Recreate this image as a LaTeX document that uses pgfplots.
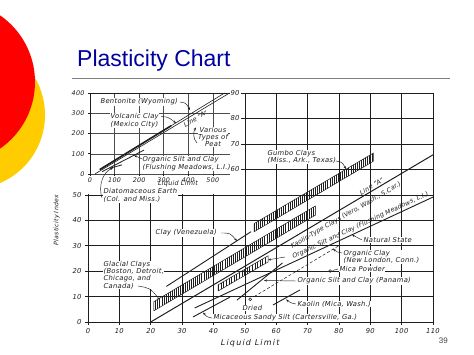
\documentclass[border=0pt]{standalone}
\usepackage{fontspec}
\setmainfont{DejaVu Sans}
\newfontfamily\arialfont{Liberation Sans}
\usepackage{pgfplots}
\pgfplotsset{compat=1.18}
\usetikzlibrary{patterns.meta,arrows.meta}

\definecolor{titleblue}{RGB}{0,0,160}
\definecolor{slidered}{RGB}{255,0,0}
\definecolor{slideyellow}{RGB}{255,204,0}
\definecolor{ink}{RGB}{30,30,30}

\newcommand{\lab}{\fontsize{6.8}{7.3}\selectfont\itshape\addfontfeatures{LetterSpace=4}}
\newcommand{\labs}{\fontsize{6.4}{7}\selectfont\itshape\addfontfeatures{LetterSpace=4}}
\newcommand{\labr}{\fontsize{6.3}{7}\selectfont\itshape\addfontfeatures{LetterSpace=2}}

\begin{document}
\begin{tikzpicture}[x=1pt,y=1pt]
\path[use as bounding box] (0,0) rectangle (474,355);
\begin{scope}
\clip (0,0) rectangle (474,355);
\fill[slideyellow] (-29,240) circle (74);
\fill[slidered] (-46,273) circle (81);
\end{scope}
\node[anchor=base west, inner sep=0, text=titleblue, font=\arialfont\fontsize{23}{26}\selectfont] at (77,288) {Plasticity Chart};
\draw[gray, line width=1pt] (72,276) -- (450,276);
\node[anchor=base east, inner sep=0, font=\arialfont\fontsize{8}{9}\selectfont, text=black!75] at (448,11) {39};

% ---------------- main chart ----------------
\begin{axis}[
  at={(88pt,33pt)}, anchor=south west, scale only axis,
  width=345pt, height=229pt,
  xmin=0, xmax=110, ymin=0, ymax=90,
  xtick={0,10,...,110}, ytick={0,10,...,50},
  extra y ticks={60,70,80,90}, extra y tick labels={},
  extra y tick style={grid=major, tick style={draw=none}},
  grid=major, grid style={ink, line width=0.5pt},
  axis line style={draw=none},
  tick align=outside, major tick length=3pt,
  tick style={ink, line width=0.5pt},
  xtick pos=bottom, ytick pos=left,
  ticklabel style={font=\lab, text=ink},
  /pgf/number format/assume math mode=true,
  xlabel={Liquid Limit}, ylabel={Plasticity Index},
  xlabel style={font=\fontsize{8}{9}\selectfont\itshape\addfontfeatures{LetterSpace=15}, text=ink, at={(ticklabel cs:0.47)}, yshift=1pt},
  ylabel style={font=\fontsize{6.2}{7}\selectfont\itshape\addfontfeatures{LetterSpace=4}, text=ink, at={(ticklabel cs:0.445)}},
  clip=false,
]
\fill[white] (axis cs:-0.4,50.35) rectangle (axis cs:49.8,91);
\draw[ink, line width=0.6pt] (axis cs:0,50.35) -- (axis cs:0,0) -- (axis cs:110,0) -- (axis cs:110,90) -- (axis cs:50,90);
\pgfplotsinvokeforeach{60,70,80,90}{
  \node[anchor=east, font=\lab, text=ink, inner sep=1pt] at (axis cs:48.7,#1) {#1};
  \draw[ink, line width=0.5pt] (axis cs:48.9,#1) -- (axis cs:50,#1);
}
% Line A
\addplot[ink, line width=1pt] coordinates {(20,0) (110,65.7)};
% Clay (Venezuela)
\addplot[ink, line width=0.9pt] coordinates {(25,14) (52,35.5)};
% Glacial clays band
\addplot[ink, line width=0.5pt, pattern color=ink, pattern={Lines[angle=90,distance=2.1pt,line width=0.32pt]}] coordinates {(21,4.4) (72.5,42.0) (72.5,45.6) (21,8.0)} -- cycle;
% Gumbo clays band
\addplot[ink, line width=0.5pt, pattern color=ink, pattern={Lines[angle=90,distance=2.1pt,line width=0.32pt]}] coordinates {(53,35.5) (91,63.2) (91,66.4) (53,38.7)} -- cycle;
% Kaolin-type clays band
\addplot[ink, line width=0.5pt, pattern color=ink, pattern={Lines[angle=90,distance=2.6pt,line width=0.32pt]}] coordinates {(41.5,12.2) (57.4,23.6) (57.4,26.0) (41.5,14.6)} -- cycle;
% Organic silt and clay (Flushing Meadows)
\addplot[ink, line width=0.9pt] coordinates {(34,5.5) (110,49.1)};
% Organic silt and clay (Panama)
\addplot[ink, line width=0.9pt] coordinates {(47.5,8.6) (62,23.2)};
% Organic clay (New London) dashed
\addplot[ink, line width=0.5pt, dash pattern=on 3pt off 2pt] coordinates {(53,10) (80,30)};
% Kaolin (Mica, Wash.)
\addplot[ink, line width=0.9pt] coordinates {(59,6.7) (67.6,12.6)};
% Micaceous sandy silt
\addplot[ink, line width=0.9pt] coordinates {(33.5,2) (45.3,9.8)};
% Mica powder and dried points
\addplot[ink, only marks, mark=o, mark size=1.4pt, mark options={line width=0.5pt}] coordinates {(77.2,20) (51.7,8.9)};
\end{axis}

% ---------------- inset chart ----------------
\begin{axis}[
  at={(90pt,181pt)}, anchor=south west, scale only axis,
  width=140pt, height=81pt,
  xmin=0, xmax=570, ymin=0, ymax=400,
  xtick={0,100,...,500}, ytick={0,100,...,400},
  grid=major, grid style={ink!80, line width=0.4pt},
  axis background/.style={fill=white},
  axis line style={draw=none},
  tick align=outside, major tick length=2pt,
  tick style={ink, line width=0.5pt},
  xtick pos=bottom, ytick pos=left,
  ticklabel style={font=\labs, text=ink},
  xticklabel style={yshift=1.5pt},
  /pgf/number format/assume math mode=true,
]
\draw[ink, line width=0.6pt] (rel axis cs:1,1) -- (rel axis cs:0,1) -- (rel axis cs:0,0) -- (rel axis cs:1,0);
\addplot[ink, line width=0.6pt] coordinates {(20,0) (568,400)};
\addplot[ink, line width=0.6pt] coordinates {(40,22) (548,400)};
\addplot[ink, line width=1.6pt] coordinates {(40,22) (330,238)};
\addplot[ink, line width=0.8pt] coordinates {(50,12) (220,118)};
\addplot[ink, line width=0.8pt] coordinates {(80,28) (130,45)};
\end{axis}

% ---------------- annotations (pixel-like coordinates, y down) ----------------
\begin{scope}[shift={(0,355)}, yscale=-1,
  lbl/.style={font=\lab, text=ink, inner sep=0.4pt, fill=white, align=left},
  arr/.style={ink, line width=0.45pt, -{Stealth[length=3pt,width=2.2pt]}}]
% inset
\node[lbl, anchor=west] at (100,102) {Bentonite (Wyoming)};
\draw[arr] (180,102) .. controls (186,103) .. (190,110);
\node[lbl, anchor=west] at (110,120.5) {Volcanic Clay\\(Mexico City)};
\draw[arr] (161,116.5) .. controls (168,117) .. (176,123);
\node[font=\labs, text=ink, rotate=31, anchor=north, inner sep=0.3pt] at (194,116.5) {Line ``A''};
\node[lbl, align=center] at (213,137) {Various\\Types of\\Peat};
\draw[arr] (197,143) .. controls (193,139) and (193,132) .. (196,127.5);
\node[lbl, anchor=west] at (142,163.5) {Organic Silt and Clay\\(Flushing Meadows, L.I.)};
\draw[arr] (142,159) .. controls (138,157) .. (134,155.5);
\node[lbl, anchor=west] at (103,195.5) {Diatomaceous Earth\\(Col. and Miss.)};
\draw[arr] (102,198) .. controls (98,186) and (103,172) .. (113,168);
\node[font=\labs, text=ink, inner sep=0.3pt] at (178,184) {Liquid Limit};
% main
\node[lbl, anchor=west] at (267,157) {Gumbo Clays\\(Miss., Ark., Texas)};
\draw[arr] (336,161) .. controls (342,162) .. (346,169);
\node[lbl, anchor=west] at (155,233) {Clay (Venezuela)};
\draw[arr] (221,233) .. controls (230,233) .. (237,241);
\node[lbl, anchor=west] at (103,275) {Glacial Clays\\(Boston, Detroit,\\Chicago, and\\Canada)};
\draw[arr] (138,286) .. controls (150,288) .. (160,300);
\node[font=\labr, text=ink, rotate=30, inner sep=0.3pt] at (346,215.5) {Kaolin-Type Clays (Vero, Wash., S.Car.)};
\draw[arr] (285,257) .. controls (277,258) .. (268,260);
\node[font=\labr, text=ink, rotate=25, anchor=south, inner sep=0.3pt] at (362,228.6) {Organic Silt and Clay (Flushing Meadows, L.I.)};
\node[font=\labs, text=ink, rotate=30.6, anchor=south, inner sep=0.5pt] at (373,189) {Line ``A''};
\node[lbl, anchor=west] at (363,240) {Natural State};
\draw[arr] (362,240) .. controls (357,238) .. (352,234.5);
\node[lbl, anchor=west] at (343,257) {Organic Clay\\(New London, Conn.)};
\draw[arr] (342,253) .. controls (337,252) .. (333,249);
\node[lbl, anchor=west] at (339,269) {Mica Powder};
\draw[ink, line width=0.45pt] (332.5,270.5) -- (338,269);
\node[lbl, anchor=west] at (297,281) {Organic Silt and Clay (Panama)};
\draw[arr] (296,281) -- (264,280.5);
\node[lbl, anchor=west] at (297,304) {Kaolin (Mica, Wash.)};
\draw[arr] (296,304) .. controls (291,303) .. (286,299.5);
\node[lbl, anchor=west] at (242,308) {Dried};
\node[lbl, anchor=west] at (213,318) {Micaceous Sandy Silt (Cartersville, Ga.)};
\draw[arr] (212,318) .. controls (207,317) .. (203,312.5);
\end{scope}
\end{tikzpicture}
\end{document}
